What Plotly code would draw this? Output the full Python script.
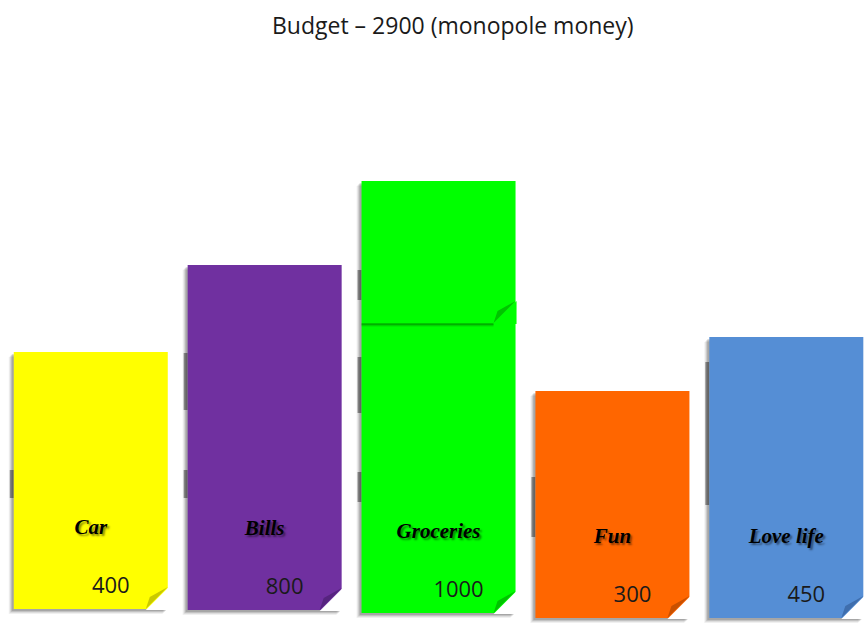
import plotly.graph_objects as go

# ---- data ----
categories = ["Car", "Bills", "Groceries", "Fun", "Love life"]
values = [400, 800, 1000, 300, 450]
note_heights = [257, 345, 432, 227, 281]      # drawn height of each sticky note
upper_note_heights = [0, 0, 142, 0, 0]         # second note stuck on top (Groceries)
title_text = "Budget \u2013 2900 (monopole money)"

# ---- styles / layout ----
note_colors = ["#FFFF00", "#7030A0", "#00FF00", "#FF6600", "#558ED5"]
fold_colors = ["#C9C900", "#56247F", "#00C400", "#C95000", "#3F6EAD"]
note_base = [21, 20, 17, 12, 12]
# darker curl shadows at the left edge of each note (pixel rows from the top)
curl_marks = [
    [(470, 498)],
    [(353, 410), (470, 498)],
    [(270, 300), (357, 413), (472, 502)],
    [(477, 537)],
    [(362, 505)],
]

W, H = 867, 630
X0, X1 = -0.522, 4.464
PX = (X1 - X0) / W
bar_w = 154 * PX
xs = list(range(len(categories)))

fig = go.Figure()

# soft drop shadows
for dx, dy, a in [(-5, -5, 0.06), (-4, -4, 0.08), (-3, -3, 0.12), (-2, -2, 0.14)]:
    fig.add_trace(go.Bar(
        x=xs, y=note_heights, base=[b + dy for b in note_base],
        width=bar_w, offset=-bar_w / 2 + dx * PX,
        marker=dict(color=f"rgba(0,0,0,{a})", line_width=0),
        hoverinfo="skip", showlegend=False))

# curl shadows on the left edges
for i, marks in enumerate(curl_marks):
    xl = i - bar_w / 2
    for top, bot in marks:
        fig.add_shape(type="rect", xref="x", yref="y",
                      x0=xl - 4 * PX, x1=xl, y0=H - bot, y1=H - top,
                      fillcolor="rgba(60,60,60,0.5)", line_width=0, layer="below")

# the notes
fig.add_trace(go.Bar(
    x=xs, y=note_heights, base=note_base, width=bar_w, offset=-bar_w / 2,
    marker=dict(color=note_colors, line_width=0),
    hoverinfo="skip", showlegend=False))


def add_fold(xr, yb, cut_color, fold_color, s=22):
    fig.add_trace(go.Scatter(
        x=[xr - s * PX, xr + 1 * PX, xr + 1 * PX, xr - s * PX],
        y=[yb - 1, yb - 1, yb + s, yb - 1],
        fill="toself", fillcolor=cut_color, mode="lines", line_width=0,
        hoverinfo="skip", showlegend=False))
    fig.add_trace(go.Scatter(
        x=[xr - s * PX, xr, xr - (s - 4) * PX, xr - s * PX],
        y=[yb, yb + s, yb + 12, yb],
        fill="toself", fillcolor=fold_color, mode="lines", line_width=0,
        hoverinfo="skip", showlegend=False))


for i in xs:
    xr = i + bar_w / 2
    add_fold(xr, note_base[i], "white", fold_colors[i])
    if upper_note_heights[i] > 0:
        yb2 = note_base[i] + note_heights[i] - upper_note_heights[i]
        for k, a in [(3, 0.08), (2, 0.15), (1, 0.3)]:
            fig.add_trace(go.Scatter(
                x=[i - bar_w / 2, xr - 22 * PX], y=[yb2 - k, yb2 - k],
                mode="lines", line=dict(color=f"rgba(0,0,0,{a})", width=1.5),
                hoverinfo="skip", showlegend=False))
        add_fold(xr, yb2, note_colors[i], fold_colors[i])

# category labels (script-like)
fig.add_trace(go.Scatter(
    x=xs, y=[b + 80 for b in note_base], text=categories, mode="text",
    textposition="middle center",
    textfont=dict(family="Liberation Serif", size=21, color="black",
                  style="italic", weight="bold",
                  shadow="2px 2px 2px rgba(0,0,0,0.45)"),
    hoverinfo="skip", showlegend=False))

# values
fig.add_trace(go.Scatter(
    x=[i + 20 * PX for i in xs], y=[b + 22 for b in note_base],
    text=[str(v) for v in values], mode="text", textposition="middle center",
    textfont=dict(family="Open Sans", size=22, color="#1a1a1a"),
    hoverinfo="skip", showlegend=False))

fig.add_annotation(
    x=453 / W, y=1 - 25 / H, xref="paper", yref="paper",
    xanchor="center", yanchor="middle",
    text=title_text, showarrow=False,
    font=dict(family="Open Sans", size=23, color="#1a1a1a"))

fig.update_layout(
    width=W, height=H, margin=dict(l=0, r=0, t=0, b=0),
    paper_bgcolor="white", plot_bgcolor="white",
    barmode="overlay",
    xaxis=dict(range=[X0, X1], visible=False, fixedrange=True),
    yaxis=dict(range=[0, H], visible=False, fixedrange=True),
)

fig.write_html("out.html", config={"displayModeBar": False},
               post_script="document.body.style.margin='0';")
